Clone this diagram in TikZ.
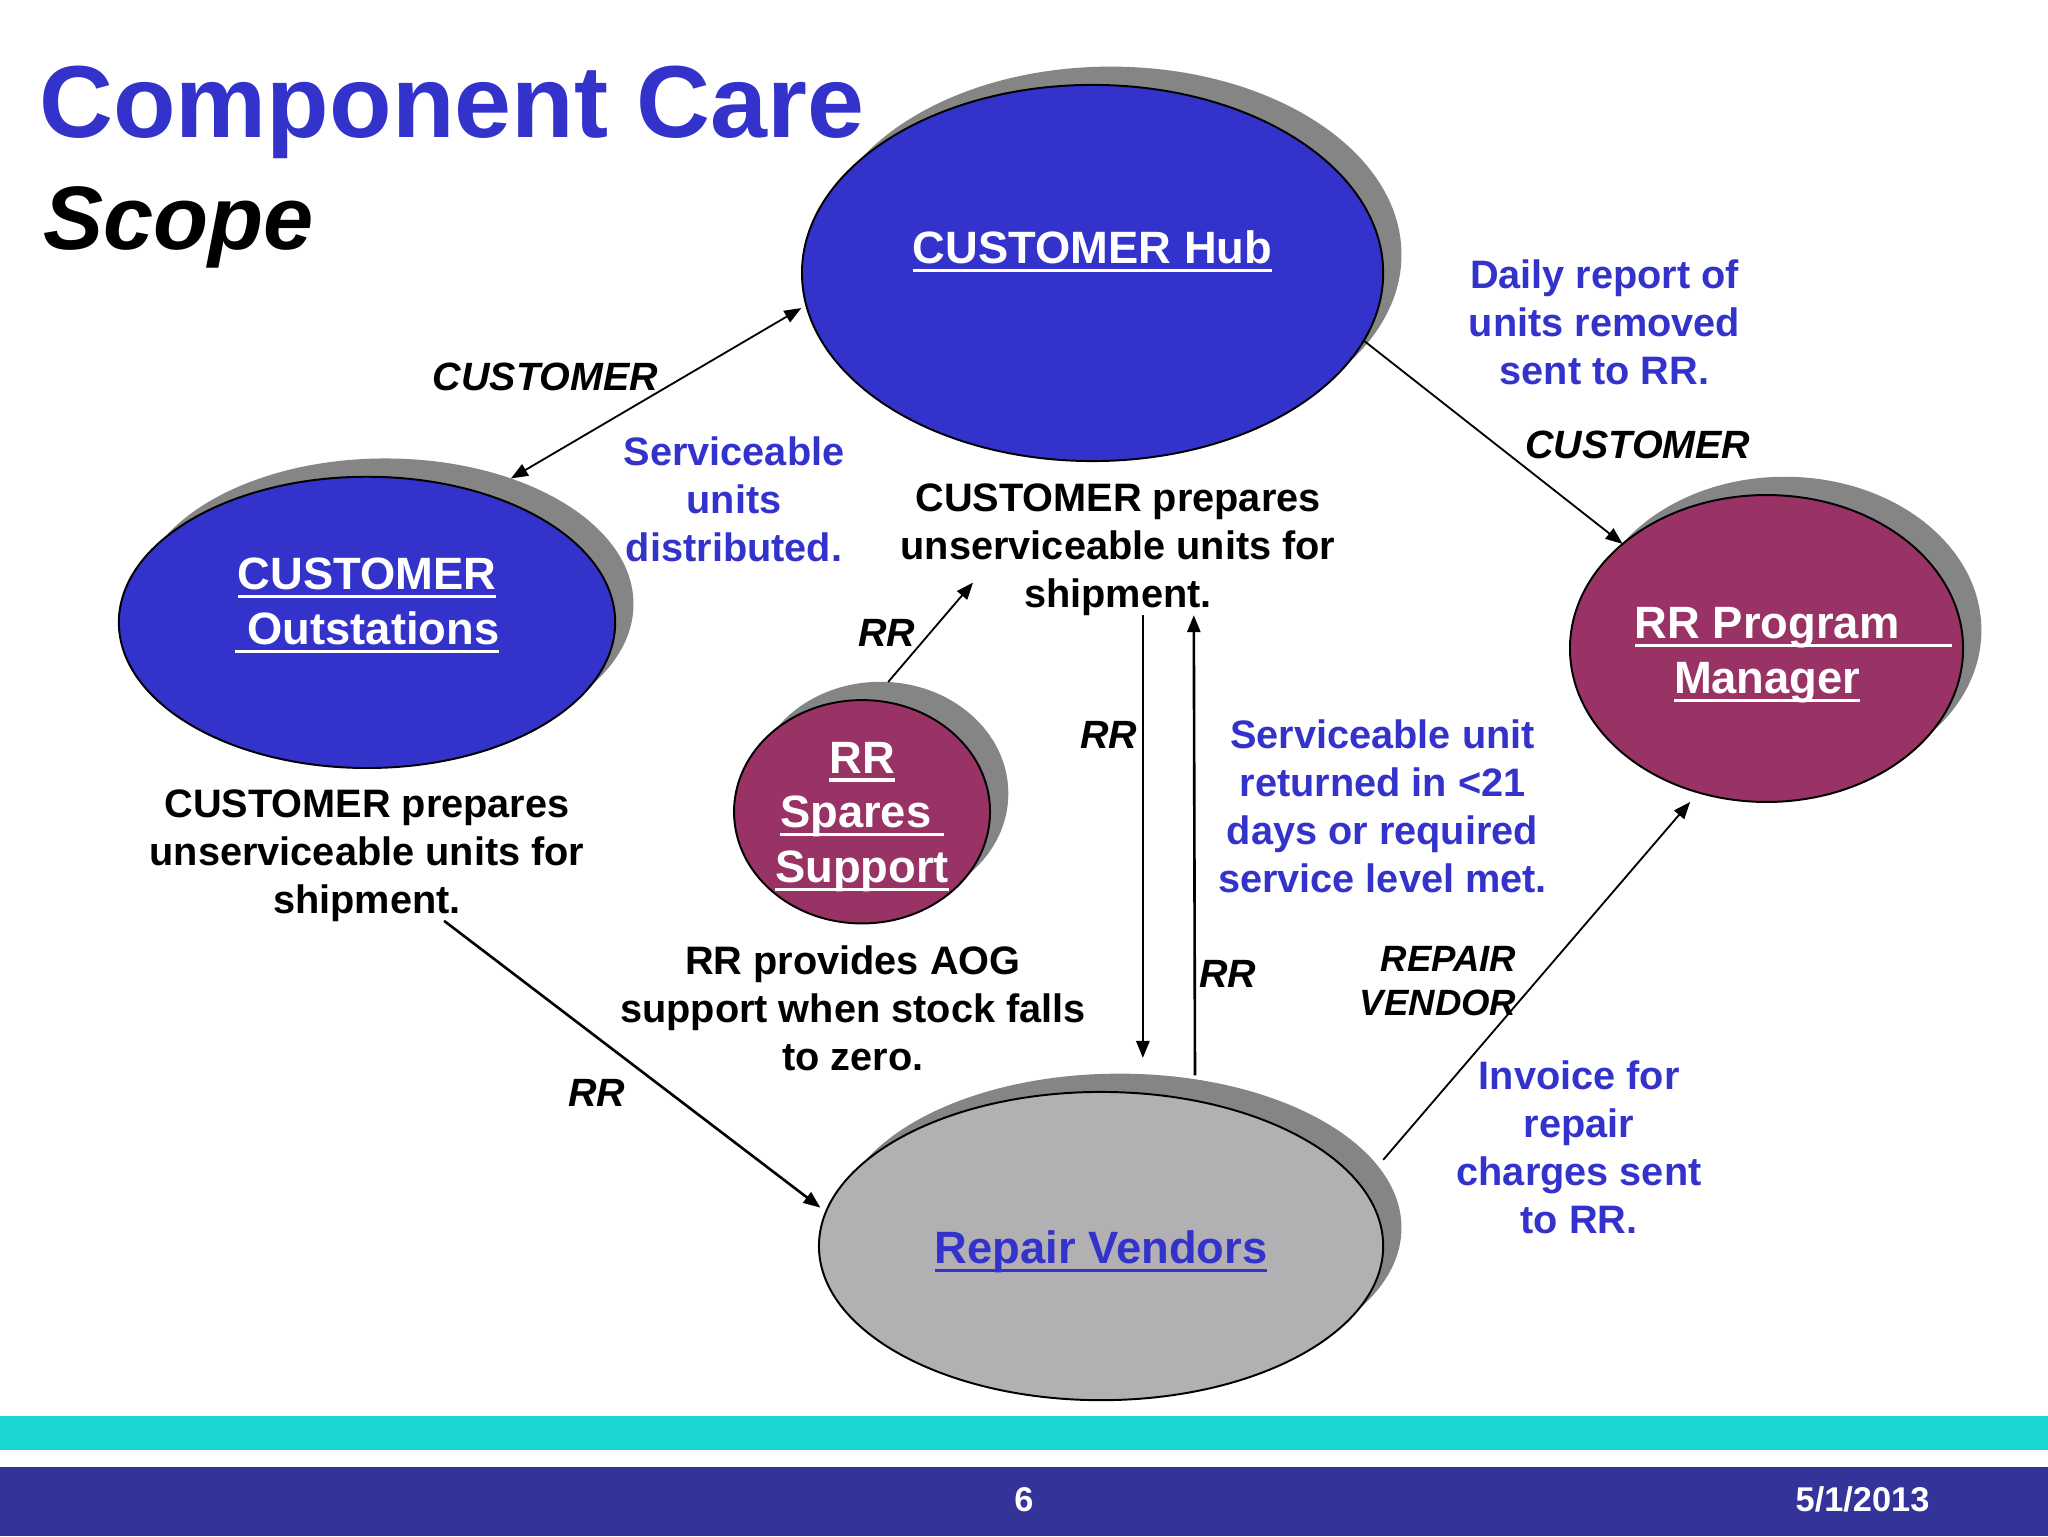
\documentclass[tikz,border=0pt]{standalone}
\usepackage{fontspec}
\setmainfont{Liberation Sans}
\usetikzlibrary{arrows.meta,shapes.geometric}
\definecolor{cblue}{HTML}{3333CC}
\definecolor{cmaroon}{HTML}{993366}
\definecolor{cshadow}{HTML}{858585}
\definecolor{cgray}{HTML}{B2B0B3}
\definecolor{cteal}{HTML}{1AD6D0}
\definecolor{cnavy}{HTML}{333399}
\newcommand{\ulx}[2][0pt]{\setbox0\hbox{#2}\dimen0=\wd0 \advance\dimen0 by #1\relax\rlap{\vrule width\dimen0 height -.12em depth .19em}\box0 }
\tikzset{
  blob/.style={ellipse,draw=black,line width=1.5pt,inner sep=0pt,outer sep=0pt,minimum width=#1},
  shade blob/.style={ellipse,fill=cshadow,draw=none,inner sep=0pt,outer sep=0pt,minimum width=#1},
  bodytext/.style={inner sep=0pt,outer sep=0pt,align=center,font=\fontsize{30.4}{36.7}\selectfont\bfseries},
  notetext/.style={bodytext,text=cblue},
  captext/.style={bodytext,text=black},
  whotext/.style={inner sep=0pt,outer sep=0pt,font=\fontsize{30.2}{36}\selectfont\bfseries\itshape},
  headtext/.style={inner sep=0pt,outer sep=0pt,align=center,text=white,font=\fontsize{34.7}{42}\selectfont\bfseries},
  linkline/.style={draw=black,line width=1.4pt,-{Triangle[length=13pt,width=10pt]}},
  biglink/.style={linkline,line width=2pt},
  foottext/.style={inner sep=0pt,outer sep=0pt,text=white,font=\fontsize{26.3}{32}\selectfont\bfseries}
}
\begin{document}
\begin{tikzpicture}[x=1pt,y=-1pt]
\useasboundingbox (0,0) rectangle (1568,1176);
\fill[white] (0,0) rectangle (1568,1176);
% footer
\fill[cteal] (0,1084) rectangle (1568,1110);
\fill[cnavy] (0,1123.5) rectangle (1568,1176);
\node[foottext] (pagenum) at (784,1148) {6};
\node[foottext] (datelabel) at (1426,1148) {5/1/2013};
% title
\node[anchor=base west,inner sep=0pt,text=cblue,font=\fontsize{78.4}{90}\selectfont\bfseries] (title) at (30,105) {Component Care};
\node[anchor=base west,inner sep=0pt,text=black,font=\fontsize{69}{80}\selectfont\bfseries\itshape] (scope) at (33,191) {Scope};
% shadows
\node[shade blob=445pt,minimum height=288pt] (hubS) at (850.5,195) {};
\node[shade blob=380pt,minimum height=223pt] (outS) at (295,462.5) {};
\node[shade blob=301pt,minimum height=235pt] (rrS) at (1366.5,482.5) {};
\node[shade blob=196pt,minimum height=171pt] (spS) at (674,607.5) {};
\node[shade blob=432pt,minimum height=236pt] (repS) at (857,940) {};
% ellipses
\node[blob=445pt,minimum height=288pt,fill=cblue] (hub) at (836.5,209) {};
\node[blob=380pt,minimum height=223pt,fill=cblue] (out) at (281,476.5) {};
\node[blob=301pt,minimum height=235pt,fill=cmaroon] (rr) at (1352.5,496.5) {};
\node[blob=196pt,minimum height=171pt,fill=cmaroon] (sp) at (660,621.5) {};
\node[blob=432pt,minimum height=236pt,fill=cgray] (rep) at (843,954) {};
% ellipse labels
\node[headtext] (hubT) at (836.5,192.5) {\ulx{CUSTOMER Hub}};
\node[headtext] (outT) at (281,463.5) {\ulx{CUSTOMER}\\\ulx{\hspace{.28em}Outstations}};
\node[headtext] (rrT) at (1353,501.5) {\ulx[40pt]{RR Program}\\\ulx{Manager}};
\node[headtext] (spT) at (660,625.5) {\ulx{RR}\\\ulx{Spares\hspace{.28em}}\\\ulx{Support}};
\node[headtext,text=cblue] (repT) at (843,958.5) {\ulx{Repair Vendors}};
% texts
\node[notetext] (daily) at (1228.5,246.5) {Daily report of\\units removed\\sent to RR.};
\node[notetext] (serv) at (562,382.5) {Serviceable\\units\\distributed.};
\node[notetext] (returned) at (1058.5,617.5) {Serviceable unit\\returned in <21\\days or required\\service level met.};
\node[notetext] (invoice) at (1209,878.5) {Invoice for\\repair\\charges sent\\to RR.};
\node[captext] (hubCap) at (856,421) {CUSTOMER prepares\\unserviceable units for\\shipment.};
\node[captext] (outCap) at (281,655) {CUSTOMER prepares\\unserviceable units for\\shipment.};
\node[captext] (aog) at (653,772) {RR provides AOG\\support when stock falls\\to zero.};
\node[whotext] (w1) at (417.5,288.5) {CUSTOMER};
\node[whotext] (w2) at (1254,341) {CUSTOMER};
\node[whotext] (w3) at (679,484.5) {RR};
\node[whotext] (w4) at (849,563) {RR};
\node[whotext] (w5) at (940,746) {RR};
\node[whotext] (w6) at (457,837) {RR};
\node[whotext,align=right,font=\fontsize{28}{33.4}\selectfont\bfseries\itshape] (w7) at (1101,751) {REPAIR\\VENDOR};
% connector free ends
\coordinate (spEnd) at (745,446);
\coordinate (outStart) at (340,705);
\coordinate (downStart) at (875,471);
\coordinate (downEnd) at (875,810);
\coordinate (upEnd) at (914,471);
\coordinate (invStart) at (1059,888);
\coordinate (invEnd) at (1294,614);
% connectors
\draw[linkline,{Triangle[length=13pt,width=10pt]}-{Triangle[length=13pt,width=10pt]}] (outS.45) -- ([xshift=-4.4pt]hub.187.06);
\draw[linkline] (hub.-14) -- (rr.144.5);
\draw[linkline] (spS.86) -- (spEnd);
\draw[biglink] (outStart) -- ([xshift=-5.7pt]rep.172.7);
\draw[biglink] (downStart) -- (downEnd);
\draw[biglink] ([yshift=3pt]repS.63.4) -- (upEnd);
\draw[linkline] (invStart) -- (invEnd);
\end{tikzpicture}
\end{document}
